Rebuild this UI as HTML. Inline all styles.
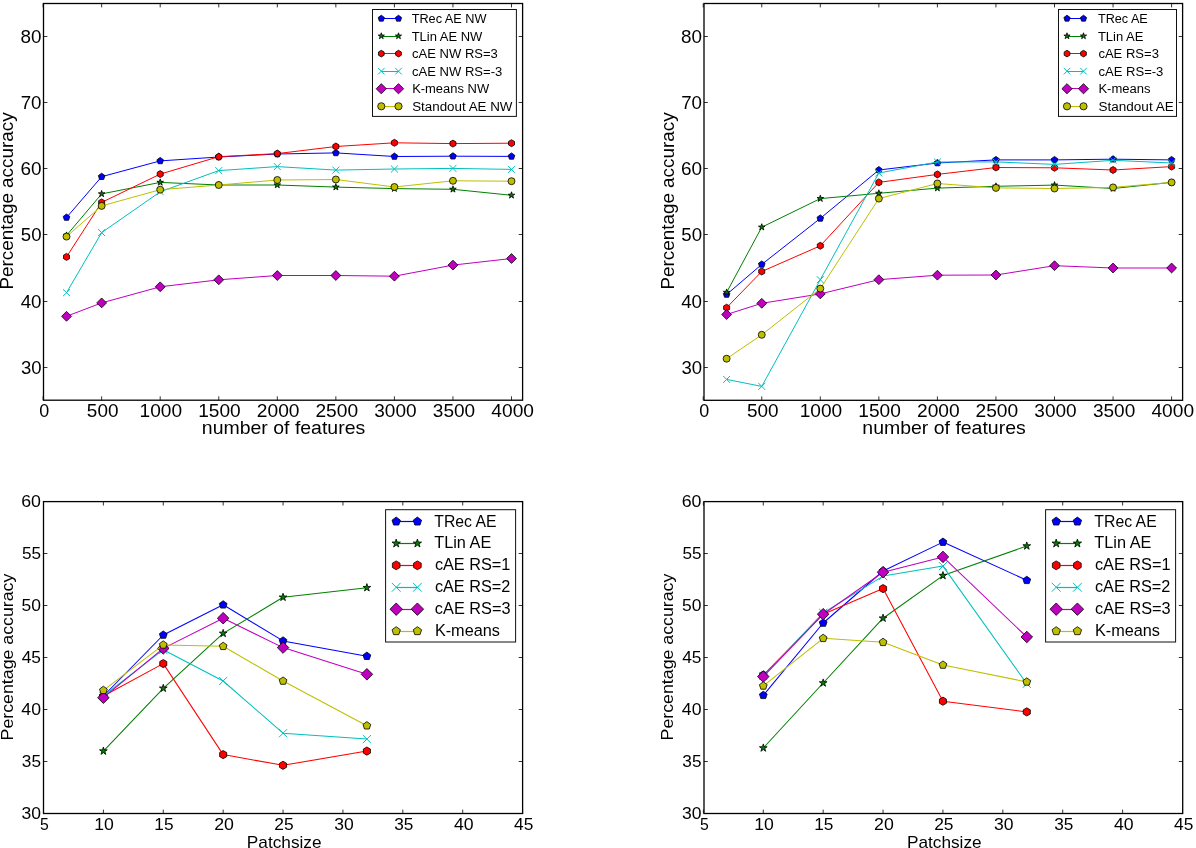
<!DOCTYPE html><html><head><meta charset="utf-8"><style>html,body{margin:0;padding:0;background:#fff;overflow:hidden;}svg{display:block;}text{font-family:"Liberation Sans",sans-serif;fill:#000;}.t{opacity:0.999}</style></head><body>
<svg width="1196" height="848" viewBox="0 0 1196 848">
<rect x="0" y="0" width="1196" height="848" fill="#fff"/>
<path d="M43.10 400.20V396.30M43.10 3.50V7.40M101.65 400.20V396.30M101.65 3.50V7.40M160.20 400.20V396.30M160.20 3.50V7.40M218.75 400.20V396.30M218.75 3.50V7.40M277.30 400.20V396.30M277.30 3.50V7.40M335.85 400.20V396.30M335.85 3.50V7.40M394.40 400.20V396.30M394.40 3.50V7.40M452.95 400.20V396.30M452.95 3.50V7.40M511.50 400.20V396.30M511.50 3.50V7.40M43.50 367.50H47.40M522.60 367.50H518.70M43.50 301.50H47.40M522.60 301.50H518.70M43.50 234.50H47.40M522.60 234.50H518.70M43.50 168.50H47.40M522.60 168.50H518.70M43.50 102.50H47.40M522.60 102.50H518.70M43.50 36.50H47.40M522.60 36.50H518.70" stroke="#000" stroke-width="0.8" fill="none"/>
<polyline points="66.52,217.50 101.65,176.70 160.20,160.90 218.75,157.00 277.30,154.00 335.85,152.90 394.40,156.50 452.95,156.20 511.50,156.40" fill="none" stroke="#0000ff" stroke-width="1.00" stroke-linejoin="round"/>
<polygon points="66.52,214.02 69.83,216.42 68.57,220.32 64.47,220.32 63.21,216.42" fill="#0000ff" stroke="#000" stroke-width="0.80"/>
<polygon points="101.65,173.22 104.96,175.62 103.70,179.52 99.60,179.52 98.34,175.62" fill="#0000ff" stroke="#000" stroke-width="0.80"/>
<polygon points="160.20,157.42 163.51,159.82 162.25,163.72 158.15,163.72 156.89,159.82" fill="#0000ff" stroke="#000" stroke-width="0.80"/>
<polygon points="218.75,153.52 222.06,155.92 220.80,159.82 216.70,159.82 215.44,155.92" fill="#0000ff" stroke="#000" stroke-width="0.80"/>
<polygon points="277.30,150.52 280.61,152.92 279.35,156.82 275.25,156.82 273.99,152.92" fill="#0000ff" stroke="#000" stroke-width="0.80"/>
<polygon points="335.85,149.42 339.16,151.82 337.90,155.72 333.80,155.72 332.54,151.82" fill="#0000ff" stroke="#000" stroke-width="0.80"/>
<polygon points="394.40,153.02 397.71,155.42 396.45,159.32 392.35,159.32 391.09,155.42" fill="#0000ff" stroke="#000" stroke-width="0.80"/>
<polygon points="452.95,152.72 456.26,155.12 455.00,159.02 450.90,159.02 449.64,155.12" fill="#0000ff" stroke="#000" stroke-width="0.80"/>
<polygon points="511.50,152.92 514.81,155.32 513.55,159.22 509.45,159.22 508.19,155.32" fill="#0000ff" stroke="#000" stroke-width="0.80"/>
<polyline points="66.52,235.40 101.65,193.90 160.20,182.40 218.75,185.00 277.30,185.00 335.85,187.10 394.40,188.60 452.95,189.30 511.50,195.30" fill="none" stroke="#008000" stroke-width="1.00" stroke-linejoin="round"/>
<polygon points="66.52,231.92 67.30,234.32 69.83,234.32 67.78,235.81 68.57,238.22 66.52,236.73 64.47,238.22 65.26,235.81 63.21,234.32 65.74,234.32" fill="#008000" stroke="#000" stroke-width="0.80"/>
<polygon points="101.65,190.42 102.43,192.82 104.96,192.82 102.91,194.31 103.70,196.72 101.65,195.23 99.60,196.72 100.39,194.31 98.34,192.82 100.87,192.82" fill="#008000" stroke="#000" stroke-width="0.80"/>
<polygon points="160.20,178.92 160.98,181.32 163.51,181.32 161.46,182.81 162.25,185.22 160.20,183.73 158.15,185.22 158.94,182.81 156.89,181.32 159.42,181.32" fill="#008000" stroke="#000" stroke-width="0.80"/>
<polygon points="218.75,181.52 219.53,183.92 222.06,183.92 220.01,185.41 220.80,187.82 218.75,186.33 216.70,187.82 217.49,185.41 215.44,183.92 217.97,183.92" fill="#008000" stroke="#000" stroke-width="0.80"/>
<polygon points="277.30,181.52 278.08,183.92 280.61,183.92 278.56,185.41 279.35,187.82 277.30,186.33 275.25,187.82 276.04,185.41 273.99,183.92 276.52,183.92" fill="#008000" stroke="#000" stroke-width="0.80"/>
<polygon points="335.85,183.62 336.63,186.02 339.16,186.02 337.11,187.51 337.90,189.92 335.85,188.43 333.80,189.92 334.59,187.51 332.54,186.02 335.07,186.02" fill="#008000" stroke="#000" stroke-width="0.80"/>
<polygon points="394.40,185.12 395.18,187.52 397.71,187.52 395.66,189.01 396.45,191.42 394.40,189.93 392.35,191.42 393.14,189.01 391.09,187.52 393.62,187.52" fill="#008000" stroke="#000" stroke-width="0.80"/>
<polygon points="452.95,185.82 453.73,188.22 456.26,188.22 454.21,189.71 455.00,192.12 452.95,190.63 450.90,192.12 451.69,189.71 449.64,188.22 452.17,188.22" fill="#008000" stroke="#000" stroke-width="0.80"/>
<polygon points="511.50,191.82 512.28,194.22 514.81,194.22 512.76,195.71 513.55,198.12 511.50,196.63 509.45,198.12 510.24,195.71 508.19,194.22 510.72,194.22" fill="#008000" stroke="#000" stroke-width="0.80"/>
<polyline points="66.52,256.90 101.65,202.40 160.20,174.10 218.75,156.70 277.30,153.60 335.85,146.50 394.40,142.80 452.95,143.60 511.50,143.20" fill="none" stroke="#ff0000" stroke-width="1.00" stroke-linejoin="round"/>
<polygon points="66.52,253.42 69.53,255.16 69.53,258.64 66.52,260.38 63.51,258.64 63.51,255.16" fill="#ff0000" stroke="#000" stroke-width="0.80"/>
<polygon points="101.65,198.92 104.66,200.66 104.66,204.14 101.65,205.88 98.64,204.14 98.64,200.66" fill="#ff0000" stroke="#000" stroke-width="0.80"/>
<polygon points="160.20,170.62 163.21,172.36 163.21,175.84 160.20,177.58 157.19,175.84 157.19,172.36" fill="#ff0000" stroke="#000" stroke-width="0.80"/>
<polygon points="218.75,153.22 221.76,154.96 221.76,158.44 218.75,160.18 215.74,158.44 215.74,154.96" fill="#ff0000" stroke="#000" stroke-width="0.80"/>
<polygon points="277.30,150.12 280.31,151.86 280.31,155.34 277.30,157.08 274.29,155.34 274.29,151.86" fill="#ff0000" stroke="#000" stroke-width="0.80"/>
<polygon points="335.85,143.02 338.86,144.76 338.86,148.24 335.85,149.98 332.84,148.24 332.84,144.76" fill="#ff0000" stroke="#000" stroke-width="0.80"/>
<polygon points="394.40,139.32 397.41,141.06 397.41,144.54 394.40,146.28 391.39,144.54 391.39,141.06" fill="#ff0000" stroke="#000" stroke-width="0.80"/>
<polygon points="452.95,140.12 455.96,141.86 455.96,145.34 452.95,147.08 449.94,145.34 449.94,141.86" fill="#ff0000" stroke="#000" stroke-width="0.80"/>
<polygon points="511.50,139.72 514.51,141.46 514.51,144.94 511.50,146.68 508.49,144.94 508.49,141.46" fill="#ff0000" stroke="#000" stroke-width="0.80"/>
<polyline points="66.52,292.70 101.65,232.60 160.20,191.80 218.75,170.60 277.30,166.60 335.85,170.10 394.40,169.00 452.95,168.40 511.50,169.40" fill="none" stroke="#00bfbf" stroke-width="1.00" stroke-linejoin="round"/>
<path d="M63.04 289.22L70.00 296.18M63.04 296.18L70.00 289.22" stroke="#00bfbf" stroke-width="1.00" fill="none"/>
<path d="M98.17 229.12L105.13 236.08M98.17 236.08L105.13 229.12" stroke="#00bfbf" stroke-width="1.00" fill="none"/>
<path d="M156.72 188.32L163.68 195.28M156.72 195.28L163.68 188.32" stroke="#00bfbf" stroke-width="1.00" fill="none"/>
<path d="M215.27 167.12L222.23 174.08M215.27 174.08L222.23 167.12" stroke="#00bfbf" stroke-width="1.00" fill="none"/>
<path d="M273.82 163.12L280.78 170.08M273.82 170.08L280.78 163.12" stroke="#00bfbf" stroke-width="1.00" fill="none"/>
<path d="M332.37 166.62L339.33 173.58M332.37 173.58L339.33 166.62" stroke="#00bfbf" stroke-width="1.00" fill="none"/>
<path d="M390.92 165.52L397.88 172.48M390.92 172.48L397.88 165.52" stroke="#00bfbf" stroke-width="1.00" fill="none"/>
<path d="M449.47 164.92L456.43 171.88M449.47 171.88L456.43 164.92" stroke="#00bfbf" stroke-width="1.00" fill="none"/>
<path d="M508.02 165.92L514.98 172.88M508.02 172.88L514.98 165.92" stroke="#00bfbf" stroke-width="1.00" fill="none"/>
<polyline points="66.52,316.30 101.65,302.90 160.20,286.80 218.75,279.80 277.30,275.50 335.85,275.50 394.40,276.20 452.95,265.10 511.50,258.50" fill="none" stroke="#bf00bf" stroke-width="1.00" stroke-linejoin="round"/>
<polygon points="66.52,311.38 71.44,316.30 66.52,321.22 61.60,316.30" fill="#bf00bf" stroke="#000" stroke-width="0.80"/>
<polygon points="101.65,297.98 106.57,302.90 101.65,307.82 96.73,302.90" fill="#bf00bf" stroke="#000" stroke-width="0.80"/>
<polygon points="160.20,281.88 165.12,286.80 160.20,291.72 155.28,286.80" fill="#bf00bf" stroke="#000" stroke-width="0.80"/>
<polygon points="218.75,274.88 223.67,279.80 218.75,284.72 213.83,279.80" fill="#bf00bf" stroke="#000" stroke-width="0.80"/>
<polygon points="277.30,270.58 282.22,275.50 277.30,280.42 272.38,275.50" fill="#bf00bf" stroke="#000" stroke-width="0.80"/>
<polygon points="335.85,270.58 340.77,275.50 335.85,280.42 330.93,275.50" fill="#bf00bf" stroke="#000" stroke-width="0.80"/>
<polygon points="394.40,271.28 399.32,276.20 394.40,281.12 389.48,276.20" fill="#bf00bf" stroke="#000" stroke-width="0.80"/>
<polygon points="452.95,260.18 457.87,265.10 452.95,270.02 448.03,265.10" fill="#bf00bf" stroke="#000" stroke-width="0.80"/>
<polygon points="511.50,253.58 516.42,258.50 511.50,263.42 506.58,258.50" fill="#bf00bf" stroke="#000" stroke-width="0.80"/>
<polyline points="66.52,236.60 101.65,205.90 160.20,189.70 218.75,185.00 277.30,180.00 335.85,179.50 394.40,187.00 452.95,180.80 511.50,181.20" fill="none" stroke="#bfbf00" stroke-width="1.00" stroke-linejoin="round"/>
<circle cx="66.52" cy="236.60" r="3.48" fill="#bfbf00" stroke="#000" stroke-width="0.80"/>
<circle cx="101.65" cy="205.90" r="3.48" fill="#bfbf00" stroke="#000" stroke-width="0.80"/>
<circle cx="160.20" cy="189.70" r="3.48" fill="#bfbf00" stroke="#000" stroke-width="0.80"/>
<circle cx="218.75" cy="185.00" r="3.48" fill="#bfbf00" stroke="#000" stroke-width="0.80"/>
<circle cx="277.30" cy="180.00" r="3.48" fill="#bfbf00" stroke="#000" stroke-width="0.80"/>
<circle cx="335.85" cy="179.50" r="3.48" fill="#bfbf00" stroke="#000" stroke-width="0.80"/>
<circle cx="394.40" cy="187.00" r="3.48" fill="#bfbf00" stroke="#000" stroke-width="0.80"/>
<circle cx="452.95" cy="180.80" r="3.48" fill="#bfbf00" stroke="#000" stroke-width="0.80"/>
<circle cx="511.50" cy="181.20" r="3.48" fill="#bfbf00" stroke="#000" stroke-width="0.80"/>
<rect x="43.50" y="3.50" width="479.10" height="396.70" fill="none" stroke="#000" stroke-width="1.3"/>
<rect x="372.50" y="9.50" width="143.90" height="106.90" fill="#fff" stroke="#111" stroke-width="1.0"/>
<line x1="381.30" y1="18.50" x2="398.50" y2="18.50" stroke="#0000ff" stroke-width="1.00"/>
<polygon points="381.30,15.22 384.42,17.49 383.23,21.15 379.37,21.15 378.18,17.49" fill="#0000ff" stroke="#000" stroke-width="0.80"/>
<polygon points="398.50,15.22 401.62,17.49 400.43,21.15 396.57,21.15 395.38,17.49" fill="#0000ff" stroke="#000" stroke-width="0.80"/>
<line x1="381.30" y1="36.50" x2="398.50" y2="36.50" stroke="#008000" stroke-width="1.00"/>
<polygon points="381.30,32.78 382.04,35.05 384.42,35.05 382.49,36.45 383.23,38.71 381.30,37.31 379.37,38.71 380.11,36.45 378.18,35.05 380.56,35.05" fill="#008000" stroke="#000" stroke-width="0.80"/>
<polygon points="398.50,32.78 399.24,35.05 401.62,35.05 399.69,36.45 400.43,38.71 398.50,37.31 396.57,38.71 397.31,36.45 395.38,35.05 397.76,35.05" fill="#008000" stroke="#000" stroke-width="0.80"/>
<line x1="381.30" y1="53.50" x2="398.50" y2="53.50" stroke="#ff0000" stroke-width="1.00"/>
<polygon points="381.30,50.34 384.14,51.98 384.14,55.26 381.30,56.90 378.46,55.26 378.46,51.98" fill="#ff0000" stroke="#000" stroke-width="0.80"/>
<polygon points="398.50,50.34 401.34,51.98 401.34,55.26 398.50,56.90 395.66,55.26 395.66,51.98" fill="#ff0000" stroke="#000" stroke-width="0.80"/>
<line x1="381.30" y1="71.50" x2="398.50" y2="71.50" stroke="#00bfbf" stroke-width="1.00"/>
<path d="M378.02 67.90L384.58 74.46M378.02 74.46L384.58 67.90" stroke="#00bfbf" stroke-width="1.00" fill="none"/>
<path d="M395.22 67.90L401.78 74.46M395.22 74.46L401.78 67.90" stroke="#00bfbf" stroke-width="1.00" fill="none"/>
<line x1="381.30" y1="88.50" x2="398.50" y2="88.50" stroke="#bf00bf" stroke-width="1.00"/>
<polygon points="381.30,83.63 386.41,88.74 381.30,93.85 376.19,88.74" fill="#bf00bf" stroke="#000" stroke-width="0.80"/>
<polygon points="398.50,83.63 403.61,88.74 398.50,93.85 393.39,88.74" fill="#bf00bf" stroke="#000" stroke-width="0.80"/>
<line x1="381.30" y1="106.50" x2="398.50" y2="106.50" stroke="#bfbf00" stroke-width="1.00"/>
<circle cx="381.30" cy="106.30" r="3.61" fill="#bfbf00" stroke="#000" stroke-width="0.80"/>
<circle cx="398.50" cy="106.30" r="3.61" fill="#bfbf00" stroke="#000" stroke-width="0.80"/>
<path d="M703.20 400.30V396.40M703.20 3.50V7.40M761.75 400.30V396.40M761.75 3.50V7.40M820.30 400.30V396.40M820.30 3.50V7.40M878.85 400.30V396.40M878.85 3.50V7.40M937.40 400.30V396.40M937.40 3.50V7.40M995.95 400.30V396.40M995.95 3.50V7.40M1054.50 400.30V396.40M1054.50 3.50V7.40M1113.05 400.30V396.40M1113.05 3.50V7.40M1171.60 400.30V396.40M1171.60 3.50V7.40M704.00 367.50H707.90M1182.60 367.50H1178.70M704.00 301.50H707.90M1182.60 301.50H1178.70M704.00 234.50H707.90M1182.60 234.50H1178.70M704.00 168.50H707.90M1182.60 168.50H1178.70M704.00 102.50H707.90M1182.60 102.50H1178.70M704.00 36.50H707.90M1182.60 36.50H1178.70" stroke="#000" stroke-width="0.8" fill="none"/>
<polyline points="726.62,294.50 761.75,264.40 820.30,218.40 878.85,170.00 937.40,163.00 995.95,159.90 1054.50,159.90 1113.05,159.20 1171.60,159.90" fill="none" stroke="#0000ff" stroke-width="1.00" stroke-linejoin="round"/>
<polygon points="726.62,291.02 729.93,293.42 728.67,297.32 724.57,297.32 723.31,293.42" fill="#0000ff" stroke="#000" stroke-width="0.80"/>
<polygon points="761.75,260.92 765.06,263.32 763.80,267.22 759.70,267.22 758.44,263.32" fill="#0000ff" stroke="#000" stroke-width="0.80"/>
<polygon points="820.30,214.92 823.61,217.32 822.35,221.22 818.25,221.22 816.99,217.32" fill="#0000ff" stroke="#000" stroke-width="0.80"/>
<polygon points="878.85,166.52 882.16,168.92 880.90,172.82 876.80,172.82 875.54,168.92" fill="#0000ff" stroke="#000" stroke-width="0.80"/>
<polygon points="937.40,159.52 940.71,161.92 939.45,165.82 935.35,165.82 934.09,161.92" fill="#0000ff" stroke="#000" stroke-width="0.80"/>
<polygon points="995.95,156.42 999.26,158.82 998.00,162.72 993.90,162.72 992.64,158.82" fill="#0000ff" stroke="#000" stroke-width="0.80"/>
<polygon points="1054.50,156.42 1057.81,158.82 1056.55,162.72 1052.45,162.72 1051.19,158.82" fill="#0000ff" stroke="#000" stroke-width="0.80"/>
<polygon points="1113.05,155.72 1116.36,158.12 1115.10,162.02 1111.00,162.02 1109.74,158.12" fill="#0000ff" stroke="#000" stroke-width="0.80"/>
<polygon points="1171.60,156.42 1174.91,158.82 1173.65,162.72 1169.55,162.72 1168.29,158.82" fill="#0000ff" stroke="#000" stroke-width="0.80"/>
<polyline points="726.62,292.40 761.75,227.20 820.30,198.60 878.85,193.30 937.40,188.10 995.95,186.30 1054.50,185.10 1113.05,188.50 1171.60,182.40" fill="none" stroke="#008000" stroke-width="1.00" stroke-linejoin="round"/>
<polygon points="726.62,288.92 727.40,291.32 729.93,291.32 727.88,292.81 728.67,295.22 726.62,293.73 724.57,295.22 725.36,292.81 723.31,291.32 725.84,291.32" fill="#008000" stroke="#000" stroke-width="0.80"/>
<polygon points="761.75,223.72 762.53,226.12 765.06,226.12 763.01,227.61 763.80,230.02 761.75,228.53 759.70,230.02 760.49,227.61 758.44,226.12 760.97,226.12" fill="#008000" stroke="#000" stroke-width="0.80"/>
<polygon points="820.30,195.12 821.08,197.52 823.61,197.52 821.56,199.01 822.35,201.42 820.30,199.93 818.25,201.42 819.04,199.01 816.99,197.52 819.52,197.52" fill="#008000" stroke="#000" stroke-width="0.80"/>
<polygon points="878.85,189.82 879.63,192.22 882.16,192.22 880.11,193.71 880.90,196.12 878.85,194.63 876.80,196.12 877.59,193.71 875.54,192.22 878.07,192.22" fill="#008000" stroke="#000" stroke-width="0.80"/>
<polygon points="937.40,184.62 938.18,187.02 940.71,187.02 938.66,188.51 939.45,190.92 937.40,189.43 935.35,190.92 936.14,188.51 934.09,187.02 936.62,187.02" fill="#008000" stroke="#000" stroke-width="0.80"/>
<polygon points="995.95,182.82 996.73,185.22 999.26,185.22 997.21,186.71 998.00,189.12 995.95,187.63 993.90,189.12 994.69,186.71 992.64,185.22 995.17,185.22" fill="#008000" stroke="#000" stroke-width="0.80"/>
<polygon points="1054.50,181.62 1055.28,184.02 1057.81,184.02 1055.76,185.51 1056.55,187.92 1054.50,186.43 1052.45,187.92 1053.24,185.51 1051.19,184.02 1053.72,184.02" fill="#008000" stroke="#000" stroke-width="0.80"/>
<polygon points="1113.05,185.02 1113.83,187.42 1116.36,187.42 1114.31,188.91 1115.10,191.32 1113.05,189.83 1111.00,191.32 1111.79,188.91 1109.74,187.42 1112.27,187.42" fill="#008000" stroke="#000" stroke-width="0.80"/>
<polygon points="1171.60,178.92 1172.38,181.32 1174.91,181.32 1172.86,182.81 1173.65,185.22 1171.60,183.73 1169.55,185.22 1170.34,182.81 1168.29,181.32 1170.82,181.32" fill="#008000" stroke="#000" stroke-width="0.80"/>
<polyline points="726.62,307.70 761.75,271.50 820.30,245.80 878.85,182.40 937.40,174.40 995.95,167.50 1054.50,167.80 1113.05,170.00 1171.60,166.60" fill="none" stroke="#ff0000" stroke-width="1.00" stroke-linejoin="round"/>
<polygon points="726.62,304.22 729.63,305.96 729.63,309.44 726.62,311.18 723.61,309.44 723.61,305.96" fill="#ff0000" stroke="#000" stroke-width="0.80"/>
<polygon points="761.75,268.02 764.76,269.76 764.76,273.24 761.75,274.98 758.74,273.24 758.74,269.76" fill="#ff0000" stroke="#000" stroke-width="0.80"/>
<polygon points="820.30,242.32 823.31,244.06 823.31,247.54 820.30,249.28 817.29,247.54 817.29,244.06" fill="#ff0000" stroke="#000" stroke-width="0.80"/>
<polygon points="878.85,178.92 881.86,180.66 881.86,184.14 878.85,185.88 875.84,184.14 875.84,180.66" fill="#ff0000" stroke="#000" stroke-width="0.80"/>
<polygon points="937.40,170.92 940.41,172.66 940.41,176.14 937.40,177.88 934.39,176.14 934.39,172.66" fill="#ff0000" stroke="#000" stroke-width="0.80"/>
<polygon points="995.95,164.02 998.96,165.76 998.96,169.24 995.95,170.98 992.94,169.24 992.94,165.76" fill="#ff0000" stroke="#000" stroke-width="0.80"/>
<polygon points="1054.50,164.32 1057.51,166.06 1057.51,169.54 1054.50,171.28 1051.49,169.54 1051.49,166.06" fill="#ff0000" stroke="#000" stroke-width="0.80"/>
<polygon points="1113.05,166.52 1116.06,168.26 1116.06,171.74 1113.05,173.48 1110.04,171.74 1110.04,168.26" fill="#ff0000" stroke="#000" stroke-width="0.80"/>
<polygon points="1171.60,163.12 1174.61,164.86 1174.61,168.34 1171.60,170.08 1168.59,168.34 1168.59,164.86" fill="#ff0000" stroke="#000" stroke-width="0.80"/>
<polyline points="726.62,379.40 761.75,386.40 820.30,279.70 878.85,173.00 937.40,162.00 995.95,161.90 1054.50,164.40 1113.05,160.30 1171.60,163.00" fill="none" stroke="#00bfbf" stroke-width="1.00" stroke-linejoin="round"/>
<path d="M723.14 375.92L730.10 382.88M723.14 382.88L730.10 375.92" stroke="#00bfbf" stroke-width="1.00" fill="none"/>
<path d="M758.27 382.92L765.23 389.88M758.27 389.88L765.23 382.92" stroke="#00bfbf" stroke-width="1.00" fill="none"/>
<path d="M816.82 276.22L823.78 283.18M816.82 283.18L823.78 276.22" stroke="#00bfbf" stroke-width="1.00" fill="none"/>
<path d="M875.37 169.52L882.33 176.48M875.37 176.48L882.33 169.52" stroke="#00bfbf" stroke-width="1.00" fill="none"/>
<path d="M933.92 158.52L940.88 165.48M933.92 165.48L940.88 158.52" stroke="#00bfbf" stroke-width="1.00" fill="none"/>
<path d="M992.47 158.42L999.43 165.38M992.47 165.38L999.43 158.42" stroke="#00bfbf" stroke-width="1.00" fill="none"/>
<path d="M1051.02 160.92L1057.98 167.88M1051.02 167.88L1057.98 160.92" stroke="#00bfbf" stroke-width="1.00" fill="none"/>
<path d="M1109.57 156.82L1116.53 163.78M1109.57 163.78L1116.53 156.82" stroke="#00bfbf" stroke-width="1.00" fill="none"/>
<path d="M1168.12 159.52L1175.08 166.48M1168.12 166.48L1175.08 159.52" stroke="#00bfbf" stroke-width="1.00" fill="none"/>
<polyline points="726.62,314.50 761.75,303.30 820.30,293.90 878.85,279.70 937.40,275.20 995.95,275.00 1054.50,265.70 1113.05,268.00 1171.60,268.00" fill="none" stroke="#bf00bf" stroke-width="1.00" stroke-linejoin="round"/>
<polygon points="726.62,309.58 731.54,314.50 726.62,319.42 721.70,314.50" fill="#bf00bf" stroke="#000" stroke-width="0.80"/>
<polygon points="761.75,298.38 766.67,303.30 761.75,308.22 756.83,303.30" fill="#bf00bf" stroke="#000" stroke-width="0.80"/>
<polygon points="820.30,288.98 825.22,293.90 820.30,298.82 815.38,293.90" fill="#bf00bf" stroke="#000" stroke-width="0.80"/>
<polygon points="878.85,274.78 883.77,279.70 878.85,284.62 873.93,279.70" fill="#bf00bf" stroke="#000" stroke-width="0.80"/>
<polygon points="937.40,270.28 942.32,275.20 937.40,280.12 932.48,275.20" fill="#bf00bf" stroke="#000" stroke-width="0.80"/>
<polygon points="995.95,270.08 1000.87,275.00 995.95,279.92 991.03,275.00" fill="#bf00bf" stroke="#000" stroke-width="0.80"/>
<polygon points="1054.50,260.78 1059.42,265.70 1054.50,270.62 1049.58,265.70" fill="#bf00bf" stroke="#000" stroke-width="0.80"/>
<polygon points="1113.05,263.08 1117.97,268.00 1113.05,272.92 1108.13,268.00" fill="#bf00bf" stroke="#000" stroke-width="0.80"/>
<polygon points="1171.60,263.08 1176.52,268.00 1171.60,272.92 1166.68,268.00" fill="#bf00bf" stroke="#000" stroke-width="0.80"/>
<polyline points="726.62,358.70 761.75,334.80 820.30,288.60 878.85,198.60 937.40,183.50 995.95,187.90 1054.50,188.50 1113.05,187.40 1171.60,182.40" fill="none" stroke="#bfbf00" stroke-width="1.00" stroke-linejoin="round"/>
<circle cx="726.62" cy="358.70" r="3.48" fill="#bfbf00" stroke="#000" stroke-width="0.80"/>
<circle cx="761.75" cy="334.80" r="3.48" fill="#bfbf00" stroke="#000" stroke-width="0.80"/>
<circle cx="820.30" cy="288.60" r="3.48" fill="#bfbf00" stroke="#000" stroke-width="0.80"/>
<circle cx="878.85" cy="198.60" r="3.48" fill="#bfbf00" stroke="#000" stroke-width="0.80"/>
<circle cx="937.40" cy="183.50" r="3.48" fill="#bfbf00" stroke="#000" stroke-width="0.80"/>
<circle cx="995.95" cy="187.90" r="3.48" fill="#bfbf00" stroke="#000" stroke-width="0.80"/>
<circle cx="1054.50" cy="188.50" r="3.48" fill="#bfbf00" stroke="#000" stroke-width="0.80"/>
<circle cx="1113.05" cy="187.40" r="3.48" fill="#bfbf00" stroke="#000" stroke-width="0.80"/>
<circle cx="1171.60" cy="182.40" r="3.48" fill="#bfbf00" stroke="#000" stroke-width="0.80"/>
<rect x="704.00" y="3.50" width="478.60" height="396.80" fill="none" stroke="#000" stroke-width="1.3"/>
<rect x="1058.50" y="9.50" width="118.00" height="106.90" fill="#fff" stroke="#111" stroke-width="1.0"/>
<line x1="1067.00" y1="18.50" x2="1083.50" y2="18.50" stroke="#0000ff" stroke-width="1.00"/>
<polygon points="1067.00,15.22 1070.12,17.49 1068.93,21.15 1065.07,21.15 1063.88,17.49" fill="#0000ff" stroke="#000" stroke-width="0.80"/>
<polygon points="1083.50,15.22 1086.62,17.49 1085.43,21.15 1081.57,21.15 1080.38,17.49" fill="#0000ff" stroke="#000" stroke-width="0.80"/>
<line x1="1067.00" y1="36.50" x2="1083.50" y2="36.50" stroke="#008000" stroke-width="1.00"/>
<polygon points="1067.00,32.78 1067.74,35.05 1070.12,35.05 1068.19,36.45 1068.93,38.71 1067.00,37.31 1065.07,38.71 1065.81,36.45 1063.88,35.05 1066.26,35.05" fill="#008000" stroke="#000" stroke-width="0.80"/>
<polygon points="1083.50,32.78 1084.24,35.05 1086.62,35.05 1084.69,36.45 1085.43,38.71 1083.50,37.31 1081.57,38.71 1082.31,36.45 1080.38,35.05 1082.76,35.05" fill="#008000" stroke="#000" stroke-width="0.80"/>
<line x1="1067.00" y1="53.50" x2="1083.50" y2="53.50" stroke="#ff0000" stroke-width="1.00"/>
<polygon points="1067.00,50.34 1069.84,51.98 1069.84,55.26 1067.00,56.90 1064.16,55.26 1064.16,51.98" fill="#ff0000" stroke="#000" stroke-width="0.80"/>
<polygon points="1083.50,50.34 1086.34,51.98 1086.34,55.26 1083.50,56.90 1080.66,55.26 1080.66,51.98" fill="#ff0000" stroke="#000" stroke-width="0.80"/>
<line x1="1067.00" y1="71.50" x2="1083.50" y2="71.50" stroke="#00bfbf" stroke-width="1.00"/>
<path d="M1063.72 67.90L1070.28 74.46M1063.72 74.46L1070.28 67.90" stroke="#00bfbf" stroke-width="1.00" fill="none"/>
<path d="M1080.22 67.90L1086.78 74.46M1080.22 74.46L1086.78 67.90" stroke="#00bfbf" stroke-width="1.00" fill="none"/>
<line x1="1067.00" y1="88.50" x2="1083.50" y2="88.50" stroke="#bf00bf" stroke-width="1.00"/>
<polygon points="1067.00,83.63 1072.11,88.74 1067.00,93.85 1061.89,88.74" fill="#bf00bf" stroke="#000" stroke-width="0.80"/>
<polygon points="1083.50,83.63 1088.61,88.74 1083.50,93.85 1078.39,88.74" fill="#bf00bf" stroke="#000" stroke-width="0.80"/>
<line x1="1067.00" y1="106.50" x2="1083.50" y2="106.50" stroke="#bfbf00" stroke-width="1.00"/>
<circle cx="1067.00" cy="106.30" r="3.61" fill="#bfbf00" stroke="#000" stroke-width="0.80"/>
<circle cx="1083.50" cy="106.30" r="3.61" fill="#bfbf00" stroke="#000" stroke-width="0.80"/>
<path d="M43.50 813.50V809.60M43.50 501.60V505.50M103.39 813.50V809.60M103.39 501.60V505.50M163.28 813.50V809.60M163.28 501.60V505.50M223.16 813.50V809.60M223.16 501.60V505.50M283.05 813.50V809.60M283.05 501.60V505.50M342.94 813.50V809.60M342.94 501.60V505.50M402.82 813.50V809.60M402.82 501.60V505.50M462.71 813.50V809.60M462.71 501.60V505.50M522.60 813.50V809.60M522.60 501.60V505.50M43.50 813.50H47.40M522.60 813.50H518.70M43.50 761.50H47.40M522.60 761.50H518.70M43.50 709.50H47.40M522.60 709.50H518.70M43.50 657.50H47.40M522.60 657.50H518.70M43.50 605.50H47.40M522.60 605.50H518.70M43.50 553.50H47.40M522.60 553.50H518.70M43.50 501.50H47.40M522.60 501.50H518.70" stroke="#000" stroke-width="0.8" fill="none"/>
<polyline points="103.39,696.00 163.28,635.00 223.16,604.80 283.05,640.90 366.89,656.20" fill="none" stroke="#0000ff" stroke-width="1.05" stroke-linejoin="round"/>
<polygon points="103.39,691.92 107.27,694.74 105.79,699.30 100.99,699.30 99.51,694.74" fill="#0000ff" stroke="#000" stroke-width="0.80"/>
<polygon points="163.28,630.92 167.16,633.74 165.67,638.30 160.88,638.30 159.39,633.74" fill="#0000ff" stroke="#000" stroke-width="0.80"/>
<polygon points="223.16,600.72 227.04,603.54 225.56,608.10 220.76,608.10 219.28,603.54" fill="#0000ff" stroke="#000" stroke-width="0.80"/>
<polygon points="283.05,636.82 286.93,639.64 285.45,644.20 280.65,644.20 279.17,639.64" fill="#0000ff" stroke="#000" stroke-width="0.80"/>
<polygon points="366.89,652.12 370.77,654.94 369.29,659.50 364.49,659.50 363.01,654.94" fill="#0000ff" stroke="#000" stroke-width="0.80"/>
<polyline points="103.39,751.10 163.28,688.30 223.16,633.40 283.05,597.30 366.89,587.70" fill="none" stroke="#008000" stroke-width="1.05" stroke-linejoin="round"/>
<polygon points="103.39,747.02 104.30,749.84 107.27,749.84 104.87,751.58 105.79,754.40 103.39,752.66 100.99,754.40 101.91,751.58 99.51,749.84 102.47,749.84" fill="#008000" stroke="#000" stroke-width="0.80"/>
<polygon points="163.28,684.22 164.19,687.04 167.16,687.04 164.76,688.78 165.67,691.60 163.28,689.86 160.88,691.60 161.79,688.78 159.39,687.04 162.36,687.04" fill="#008000" stroke="#000" stroke-width="0.80"/>
<polygon points="223.16,629.32 224.08,632.14 227.04,632.14 224.64,633.88 225.56,636.70 223.16,634.96 220.76,636.70 221.68,633.88 219.28,632.14 222.25,632.14" fill="#008000" stroke="#000" stroke-width="0.80"/>
<polygon points="283.05,593.22 283.97,596.04 286.93,596.04 284.53,597.78 285.45,600.60 283.05,598.86 280.65,600.60 281.57,597.78 279.17,596.04 282.13,596.04" fill="#008000" stroke="#000" stroke-width="0.80"/>
<polygon points="366.89,583.62 367.81,586.44 370.77,586.44 368.37,588.18 369.29,591.00 366.89,589.26 364.49,591.00 365.41,588.18 363.01,586.44 365.98,586.44" fill="#008000" stroke="#000" stroke-width="0.80"/>
<polyline points="103.39,696.00 163.28,663.60 223.16,754.60 283.05,765.30 366.89,751.10" fill="none" stroke="#ff0000" stroke-width="1.05" stroke-linejoin="round"/>
<polygon points="103.39,691.92 106.92,693.96 106.92,698.04 103.39,700.08 99.85,698.04 99.85,693.96" fill="#ff0000" stroke="#000" stroke-width="0.80"/>
<polygon points="163.28,659.52 166.81,661.56 166.81,665.64 163.28,667.68 159.74,665.64 159.74,661.56" fill="#ff0000" stroke="#000" stroke-width="0.80"/>
<polygon points="223.16,750.52 226.70,752.56 226.70,756.64 223.16,758.68 219.63,756.64 219.63,752.56" fill="#ff0000" stroke="#000" stroke-width="0.80"/>
<polygon points="283.05,761.22 286.58,763.26 286.58,767.34 283.05,769.38 279.52,767.34 279.52,763.26" fill="#ff0000" stroke="#000" stroke-width="0.80"/>
<polygon points="366.89,747.02 370.43,749.06 370.43,753.14 366.89,755.18 363.36,753.14 363.36,749.06" fill="#ff0000" stroke="#000" stroke-width="0.80"/>
<polyline points="103.39,696.00 163.28,649.70 223.16,681.00 283.05,733.20 366.89,739.10" fill="none" stroke="#00bfbf" stroke-width="1.05" stroke-linejoin="round"/>
<path d="M99.31 691.92L107.47 700.08M99.31 700.08L107.47 691.92" stroke="#00bfbf" stroke-width="1.00" fill="none"/>
<path d="M159.19 645.62L167.36 653.78M159.19 653.78L167.36 645.62" stroke="#00bfbf" stroke-width="1.00" fill="none"/>
<path d="M219.08 676.92L227.24 685.08M219.08 685.08L227.24 676.92" stroke="#00bfbf" stroke-width="1.00" fill="none"/>
<path d="M278.97 729.12L287.13 737.28M278.97 737.28L287.13 729.12" stroke="#00bfbf" stroke-width="1.00" fill="none"/>
<path d="M362.81 735.02L370.97 743.18M362.81 743.18L370.97 735.02" stroke="#00bfbf" stroke-width="1.00" fill="none"/>
<polyline points="103.39,697.70 163.28,648.40 223.16,618.20 283.05,647.60 366.89,674.30" fill="none" stroke="#bf00bf" stroke-width="1.05" stroke-linejoin="round"/>
<polygon points="103.39,691.93 109.16,697.70 103.39,703.47 97.61,697.70" fill="#bf00bf" stroke="#000" stroke-width="0.80"/>
<polygon points="163.28,642.63 169.05,648.40 163.28,654.17 157.50,648.40" fill="#bf00bf" stroke="#000" stroke-width="0.80"/>
<polygon points="223.16,612.43 228.94,618.20 223.16,623.97 217.39,618.20" fill="#bf00bf" stroke="#000" stroke-width="0.80"/>
<polygon points="283.05,641.83 288.82,647.60 283.05,653.37 277.28,647.60" fill="#bf00bf" stroke="#000" stroke-width="0.80"/>
<polygon points="366.89,668.53 372.67,674.30 366.89,680.07 361.12,674.30" fill="#bf00bf" stroke="#000" stroke-width="0.80"/>
<polyline points="103.39,690.30 163.28,644.90 223.16,646.30 283.05,681.00 366.89,725.70" fill="none" stroke="#bfbf00" stroke-width="1.05" stroke-linejoin="round"/>
<polygon points="103.39,686.22 107.27,689.04 105.79,693.60 100.99,693.60 99.51,689.04" fill="#bfbf00" stroke="#000" stroke-width="0.80"/>
<polygon points="163.28,640.82 167.16,643.64 165.67,648.20 160.88,648.20 159.39,643.64" fill="#bfbf00" stroke="#000" stroke-width="0.80"/>
<polygon points="223.16,642.22 227.04,645.04 225.56,649.60 220.76,649.60 219.28,645.04" fill="#bfbf00" stroke="#000" stroke-width="0.80"/>
<polygon points="283.05,676.92 286.93,679.74 285.45,684.30 280.65,684.30 279.17,679.74" fill="#bfbf00" stroke="#000" stroke-width="0.80"/>
<polygon points="366.89,721.62 370.77,724.44 369.29,729.00 364.49,729.00 363.01,724.44" fill="#bfbf00" stroke="#000" stroke-width="0.80"/>
<rect x="43.50" y="501.60" width="479.10" height="311.90" fill="none" stroke="#000" stroke-width="1.3"/>
<rect x="385.60" y="509.70" width="130.00" height="132.30" fill="#fff" stroke="#111" stroke-width="1.0"/>
<line x1="396.20" y1="521.50" x2="417.40" y2="521.50" stroke="#0000ff" stroke-width="1.20"/>
<polygon points="396.20,517.10 400.38,520.14 398.79,525.06 393.61,525.06 392.02,520.14" fill="#0000ff" stroke="#000" stroke-width="0.80"/>
<polygon points="417.40,517.10 421.58,520.14 419.99,525.06 414.81,525.06 413.22,520.14" fill="#0000ff" stroke="#000" stroke-width="0.80"/>
<line x1="396.20" y1="543.50" x2="417.40" y2="543.50" stroke="#008000" stroke-width="1.20"/>
<polygon points="396.20,539.02 397.19,542.06 400.38,542.06 397.80,543.94 398.79,546.98 396.20,545.10 393.61,546.98 394.60,543.94 392.02,542.06 395.21,542.06" fill="#008000" stroke="#000" stroke-width="0.80"/>
<polygon points="417.40,539.02 418.39,542.06 421.58,542.06 419.00,543.94 419.99,546.98 417.40,545.10 414.81,546.98 415.80,543.94 413.22,542.06 416.41,542.06" fill="#008000" stroke="#000" stroke-width="0.80"/>
<line x1="396.20" y1="565.50" x2="417.40" y2="565.50" stroke="#ff0000" stroke-width="1.20"/>
<polygon points="396.20,560.94 400.01,563.14 400.01,567.54 396.20,569.74 392.39,567.54 392.39,563.14" fill="#ff0000" stroke="#000" stroke-width="0.80"/>
<polygon points="417.40,560.94 421.21,563.14 421.21,567.54 417.40,569.74 413.59,567.54 413.59,563.14" fill="#ff0000" stroke="#000" stroke-width="0.80"/>
<line x1="396.20" y1="587.50" x2="417.40" y2="587.50" stroke="#00bfbf" stroke-width="1.20"/>
<path d="M391.80 582.86L400.60 591.66M391.80 591.66L400.60 582.86" stroke="#00bfbf" stroke-width="1.00" fill="none"/>
<path d="M413.00 582.86L421.80 591.66M413.00 591.66L421.80 582.86" stroke="#00bfbf" stroke-width="1.00" fill="none"/>
<line x1="396.20" y1="609.50" x2="417.40" y2="609.50" stroke="#bf00bf" stroke-width="1.20"/>
<polygon points="396.20,602.95 402.43,609.18 396.20,615.41 389.97,609.18" fill="#bf00bf" stroke="#000" stroke-width="0.80"/>
<polygon points="417.40,602.95 423.63,609.18 417.40,615.41 411.17,609.18" fill="#bf00bf" stroke="#000" stroke-width="0.80"/>
<line x1="396.20" y1="631.50" x2="417.40" y2="631.50" stroke="#bfbf00" stroke-width="1.20"/>
<polygon points="396.20,626.70 400.38,629.74 398.79,634.66 393.61,634.66 392.02,629.74" fill="#bfbf00" stroke="#000" stroke-width="0.80"/>
<polygon points="417.40,626.70 421.58,629.74 419.99,634.66 414.81,634.66 413.22,629.74" fill="#bfbf00" stroke="#000" stroke-width="0.80"/>
<path d="M703.40 813.50V809.60M703.40 501.60V505.50M763.29 813.50V809.60M763.29 501.60V505.50M823.17 813.50V809.60M823.17 501.60V505.50M883.06 813.50V809.60M883.06 501.60V505.50M942.95 813.50V809.60M942.95 501.60V505.50M1002.84 813.50V809.60M1002.84 501.60V505.50M1062.72 813.50V809.60M1062.72 501.60V505.50M1122.61 813.50V809.60M1122.61 501.60V505.50M1182.50 813.50V809.60M1182.50 501.60V505.50M704.00 813.50H707.90M1182.70 813.50H1178.80M704.00 761.50H707.90M1182.70 761.50H1178.80M704.00 709.50H707.90M1182.70 709.50H1178.80M704.00 657.50H707.90M1182.70 657.50H1178.80M704.00 605.50H707.90M1182.70 605.50H1178.80M704.00 553.50H707.90M1182.70 553.50H1178.80M704.00 501.50H707.90M1182.70 501.50H1178.80" stroke="#000" stroke-width="0.8" fill="none"/>
<polyline points="763.29,695.30 823.17,623.00 883.06,571.00 942.95,542.10 1026.79,580.30" fill="none" stroke="#0000ff" stroke-width="1.05" stroke-linejoin="round"/>
<polygon points="763.29,691.22 767.17,694.04 765.69,698.60 760.89,698.60 759.41,694.04" fill="#0000ff" stroke="#000" stroke-width="0.80"/>
<polygon points="823.17,618.92 827.06,621.74 825.57,626.30 820.78,626.30 819.29,621.74" fill="#0000ff" stroke="#000" stroke-width="0.80"/>
<polygon points="883.06,566.92 886.94,569.74 885.46,574.30 880.66,574.30 879.18,569.74" fill="#0000ff" stroke="#000" stroke-width="0.80"/>
<polygon points="942.95,538.02 946.83,540.84 945.35,545.40 940.55,545.40 939.07,540.84" fill="#0000ff" stroke="#000" stroke-width="0.80"/>
<polygon points="1026.79,576.22 1030.67,579.04 1029.19,583.60 1024.39,583.60 1022.91,579.04" fill="#0000ff" stroke="#000" stroke-width="0.80"/>
<polyline points="763.29,748.00 823.17,683.00 883.06,618.20 942.95,575.60 1026.79,546.00" fill="none" stroke="#008000" stroke-width="1.05" stroke-linejoin="round"/>
<polygon points="763.29,743.92 764.20,746.74 767.17,746.74 764.77,748.48 765.69,751.30 763.29,749.56 760.89,751.30 761.81,748.48 759.41,746.74 762.37,746.74" fill="#008000" stroke="#000" stroke-width="0.80"/>
<polygon points="823.17,678.92 824.09,681.74 827.06,681.74 824.66,683.48 825.57,686.30 823.17,684.56 820.78,686.30 821.69,683.48 819.29,681.74 822.26,681.74" fill="#008000" stroke="#000" stroke-width="0.80"/>
<polygon points="883.06,614.12 883.98,616.94 886.94,616.94 884.54,618.68 885.46,621.50 883.06,619.76 880.66,621.50 881.58,618.68 879.18,616.94 882.15,616.94" fill="#008000" stroke="#000" stroke-width="0.80"/>
<polygon points="942.95,571.52 943.87,574.34 946.83,574.34 944.43,576.08 945.35,578.90 942.95,577.16 940.55,578.90 941.47,576.08 939.07,574.34 942.03,574.34" fill="#008000" stroke="#000" stroke-width="0.80"/>
<polygon points="1026.79,541.92 1027.71,544.74 1030.67,544.74 1028.27,546.48 1029.19,549.30 1026.79,547.56 1024.39,549.30 1025.31,546.48 1022.91,544.74 1025.88,544.74" fill="#008000" stroke="#000" stroke-width="0.80"/>
<polyline points="763.29,675.00 823.17,614.20 883.06,588.60 942.95,701.20 1026.79,711.90" fill="none" stroke="#ff0000" stroke-width="1.05" stroke-linejoin="round"/>
<polygon points="763.29,670.92 766.82,672.96 766.82,677.04 763.29,679.08 759.75,677.04 759.75,672.96" fill="#ff0000" stroke="#000" stroke-width="0.80"/>
<polygon points="823.17,610.12 826.71,612.16 826.71,616.24 823.17,618.28 819.64,616.24 819.64,612.16" fill="#ff0000" stroke="#000" stroke-width="0.80"/>
<polygon points="883.06,584.52 886.60,586.56 886.60,590.64 883.06,592.68 879.53,590.64 879.53,586.56" fill="#ff0000" stroke="#000" stroke-width="0.80"/>
<polygon points="942.95,697.12 946.48,699.16 946.48,703.24 942.95,705.28 939.42,703.24 939.42,699.16" fill="#ff0000" stroke="#000" stroke-width="0.80"/>
<polygon points="1026.79,707.82 1030.33,709.86 1030.33,713.94 1026.79,715.98 1023.26,713.94 1023.26,709.86" fill="#ff0000" stroke="#000" stroke-width="0.80"/>
<polyline points="763.29,676.00 823.17,612.90 883.06,576.10 942.95,566.10 1026.79,683.80" fill="none" stroke="#00bfbf" stroke-width="1.05" stroke-linejoin="round"/>
<path d="M759.21 671.92L767.37 680.08M759.21 680.08L767.37 671.92" stroke="#00bfbf" stroke-width="1.00" fill="none"/>
<path d="M819.09 608.82L827.25 616.98M819.09 616.98L827.25 608.82" stroke="#00bfbf" stroke-width="1.00" fill="none"/>
<path d="M878.98 572.02L887.14 580.18M878.98 580.18L887.14 572.02" stroke="#00bfbf" stroke-width="1.00" fill="none"/>
<path d="M938.87 562.02L947.03 570.18M938.87 570.18L947.03 562.02" stroke="#00bfbf" stroke-width="1.00" fill="none"/>
<path d="M1022.71 679.72L1030.87 687.88M1022.71 687.88L1030.87 679.72" stroke="#00bfbf" stroke-width="1.00" fill="none"/>
<polyline points="763.29,676.60 823.17,614.20 883.06,572.20 942.95,556.90 1026.79,637.00" fill="none" stroke="#bf00bf" stroke-width="1.05" stroke-linejoin="round"/>
<polygon points="763.29,670.83 769.06,676.60 763.29,682.37 757.51,676.60" fill="#bf00bf" stroke="#000" stroke-width="0.80"/>
<polygon points="823.17,608.43 828.95,614.20 823.17,619.97 817.40,614.20" fill="#bf00bf" stroke="#000" stroke-width="0.80"/>
<polygon points="883.06,566.43 888.84,572.20 883.06,577.97 877.29,572.20" fill="#bf00bf" stroke="#000" stroke-width="0.80"/>
<polygon points="942.95,551.13 948.72,556.90 942.95,562.67 937.18,556.90" fill="#bf00bf" stroke="#000" stroke-width="0.80"/>
<polygon points="1026.79,631.23 1032.57,637.00 1026.79,642.77 1021.02,637.00" fill="#bf00bf" stroke="#000" stroke-width="0.80"/>
<polyline points="763.29,685.90 823.17,638.30 883.06,642.30 942.95,665.00 1026.79,681.90" fill="none" stroke="#bfbf00" stroke-width="1.05" stroke-linejoin="round"/>
<polygon points="763.29,681.82 767.17,684.64 765.69,689.20 760.89,689.20 759.41,684.64" fill="#bfbf00" stroke="#000" stroke-width="0.80"/>
<polygon points="823.17,634.22 827.06,637.04 825.57,641.60 820.78,641.60 819.29,637.04" fill="#bfbf00" stroke="#000" stroke-width="0.80"/>
<polygon points="883.06,638.22 886.94,641.04 885.46,645.60 880.66,645.60 879.18,641.04" fill="#bfbf00" stroke="#000" stroke-width="0.80"/>
<polygon points="942.95,660.92 946.83,663.74 945.35,668.30 940.55,668.30 939.07,663.74" fill="#bfbf00" stroke="#000" stroke-width="0.80"/>
<polygon points="1026.79,677.82 1030.67,680.64 1029.19,685.20 1024.39,685.20 1022.91,680.64" fill="#bfbf00" stroke="#000" stroke-width="0.80"/>
<rect x="704.00" y="501.60" width="478.70" height="311.90" fill="none" stroke="#000" stroke-width="1.3"/>
<rect x="1045.60" y="509.70" width="130.00" height="132.30" fill="#fff" stroke="#111" stroke-width="1.0"/>
<line x1="1056.20" y1="521.50" x2="1077.40" y2="521.50" stroke="#0000ff" stroke-width="1.20"/>
<polygon points="1056.20,517.10 1060.38,520.14 1058.79,525.06 1053.61,525.06 1052.02,520.14" fill="#0000ff" stroke="#000" stroke-width="0.80"/>
<polygon points="1077.40,517.10 1081.58,520.14 1079.99,525.06 1074.81,525.06 1073.22,520.14" fill="#0000ff" stroke="#000" stroke-width="0.80"/>
<line x1="1056.20" y1="543.50" x2="1077.40" y2="543.50" stroke="#008000" stroke-width="1.20"/>
<polygon points="1056.20,539.02 1057.19,542.06 1060.38,542.06 1057.80,543.94 1058.79,546.98 1056.20,545.10 1053.61,546.98 1054.60,543.94 1052.02,542.06 1055.21,542.06" fill="#008000" stroke="#000" stroke-width="0.80"/>
<polygon points="1077.40,539.02 1078.39,542.06 1081.58,542.06 1079.00,543.94 1079.99,546.98 1077.40,545.10 1074.81,546.98 1075.80,543.94 1073.22,542.06 1076.41,542.06" fill="#008000" stroke="#000" stroke-width="0.80"/>
<line x1="1056.20" y1="565.50" x2="1077.40" y2="565.50" stroke="#ff0000" stroke-width="1.20"/>
<polygon points="1056.20,560.94 1060.01,563.14 1060.01,567.54 1056.20,569.74 1052.39,567.54 1052.39,563.14" fill="#ff0000" stroke="#000" stroke-width="0.80"/>
<polygon points="1077.40,560.94 1081.21,563.14 1081.21,567.54 1077.40,569.74 1073.59,567.54 1073.59,563.14" fill="#ff0000" stroke="#000" stroke-width="0.80"/>
<line x1="1056.20" y1="587.50" x2="1077.40" y2="587.50" stroke="#00bfbf" stroke-width="1.20"/>
<path d="M1051.80 582.86L1060.60 591.66M1051.80 591.66L1060.60 582.86" stroke="#00bfbf" stroke-width="1.00" fill="none"/>
<path d="M1073.00 582.86L1081.80 591.66M1073.00 591.66L1081.80 582.86" stroke="#00bfbf" stroke-width="1.00" fill="none"/>
<line x1="1056.20" y1="609.50" x2="1077.40" y2="609.50" stroke="#bf00bf" stroke-width="1.20"/>
<polygon points="1056.20,602.95 1062.43,609.18 1056.20,615.41 1049.97,609.18" fill="#bf00bf" stroke="#000" stroke-width="0.80"/>
<polygon points="1077.40,602.95 1083.63,609.18 1077.40,615.41 1071.17,609.18" fill="#bf00bf" stroke="#000" stroke-width="0.80"/>
<line x1="1056.20" y1="631.50" x2="1077.40" y2="631.50" stroke="#bfbf00" stroke-width="1.20"/>
<polygon points="1056.20,626.70 1060.38,629.74 1058.79,634.66 1053.61,634.66 1052.02,629.74" fill="#bfbf00" stroke="#000" stroke-width="0.80"/>
<polygon points="1077.40,626.70 1081.58,629.74 1079.99,634.66 1074.81,634.66 1073.22,629.74" fill="#bfbf00" stroke="#000" stroke-width="0.80"/>
<g style="opacity:0.999"><text x="411.63" y="22.95" font-size="13.02" textLength="74.94" lengthAdjust="spacingAndGlyphs">TRec AE NW</text><text x="411.63" y="40.51" font-size="13.02" textLength="70.74" lengthAdjust="spacingAndGlyphs">TLin AE NW</text><text x="412.12" y="58.07" font-size="13.02" textLength="85.73" lengthAdjust="spacingAndGlyphs">cAE NW RS=3</text><text x="412.12" y="75.63" font-size="13.02" textLength="90.13" lengthAdjust="spacingAndGlyphs">cAE NW RS=-3</text><text x="412.13" y="93.19" font-size="13.02" textLength="77.04" lengthAdjust="spacingAndGlyphs">K-means NW</text><text x="412.17" y="110.75" font-size="13.02" textLength="100.33" lengthAdjust="spacingAndGlyphs">Standout AE NW</text><text x="1097.93" y="22.95" font-size="13.02" textLength="49.84" lengthAdjust="spacingAndGlyphs">TRec AE</text><text x="1097.92" y="40.51" font-size="13.02" textLength="45.59" lengthAdjust="spacingAndGlyphs">TLin AE</text><text x="1098.42" y="58.07" font-size="13.02" textLength="60.53" lengthAdjust="spacingAndGlyphs">cAE RS=3</text><text x="1098.42" y="75.63" font-size="13.02" textLength="64.98" lengthAdjust="spacingAndGlyphs">cAE RS=-3</text><text x="1098.42" y="93.19" font-size="13.02" textLength="52.15" lengthAdjust="spacingAndGlyphs">K-means</text><text x="1098.46" y="110.75" font-size="13.02" textLength="75.27" lengthAdjust="spacingAndGlyphs">Standout AE</text><text x="434.27" y="526.50" font-size="16.26" textLength="62.34" lengthAdjust="spacingAndGlyphs">TRec AE</text><text x="434.26" y="548.42" font-size="16.26" textLength="57.03" lengthAdjust="spacingAndGlyphs">TLin AE</text><text x="434.89" y="570.34" font-size="16.26" textLength="75.55" lengthAdjust="spacingAndGlyphs">cAE RS=1</text><text x="434.89" y="592.26" font-size="16.26" textLength="75.42" lengthAdjust="spacingAndGlyphs">cAE RS=2</text><text x="434.89" y="614.18" font-size="16.26" textLength="75.67" lengthAdjust="spacingAndGlyphs">cAE RS=3</text><text x="434.89" y="636.10" font-size="16.26" textLength="65.02" lengthAdjust="spacingAndGlyphs">K-means</text><text x="1094.37" y="526.50" font-size="16.26" textLength="62.34" lengthAdjust="spacingAndGlyphs">TRec AE</text><text x="1094.36" y="548.42" font-size="16.26" textLength="57.03" lengthAdjust="spacingAndGlyphs">TLin AE</text><text x="1094.99" y="570.34" font-size="16.26" textLength="75.55" lengthAdjust="spacingAndGlyphs">cAE RS=1</text><text x="1094.99" y="592.26" font-size="16.26" textLength="75.42" lengthAdjust="spacingAndGlyphs">cAE RS=2</text><text x="1094.99" y="614.18" font-size="16.26" textLength="75.67" lengthAdjust="spacingAndGlyphs">cAE RS=3</text><text x="1094.99" y="636.10" font-size="16.26" textLength="65.02" lengthAdjust="spacingAndGlyphs">K-means</text><text x="39.14" y="416.80" font-size="18.07" textLength="9.97" lengthAdjust="spacingAndGlyphs">0</text><text x="86.86" y="416.80" font-size="18.07" textLength="31.59" lengthAdjust="spacingAndGlyphs">500</text><text x="139.62" y="416.80" font-size="18.07" textLength="42.49" lengthAdjust="spacingAndGlyphs">1000</text><text x="198.17" y="416.80" font-size="18.07" textLength="42.49" lengthAdjust="spacingAndGlyphs">1500</text><text x="256.87" y="416.80" font-size="18.07" textLength="42.66" lengthAdjust="spacingAndGlyphs">2000</text><text x="315.42" y="416.80" font-size="18.07" textLength="42.66" lengthAdjust="spacingAndGlyphs">2500</text><text x="374.27" y="416.80" font-size="18.07" textLength="42.32" lengthAdjust="spacingAndGlyphs">3000</text><text x="432.82" y="416.80" font-size="18.07" textLength="42.32" lengthAdjust="spacingAndGlyphs">3500</text><text x="491.38" y="416.80" font-size="18.07" textLength="42.57" lengthAdjust="spacingAndGlyphs">4000</text><text x="20.91" y="373.60" font-size="18.07" textLength="20.63" lengthAdjust="spacingAndGlyphs">30</text><text x="20.66" y="307.60" font-size="18.07" textLength="20.89" lengthAdjust="spacingAndGlyphs">40</text><text x="20.84" y="240.60" font-size="18.07" textLength="20.70" lengthAdjust="spacingAndGlyphs">50</text><text x="20.51" y="174.60" font-size="18.07" textLength="21.05" lengthAdjust="spacingAndGlyphs">60</text><text x="20.70" y="108.60" font-size="18.07" textLength="20.84" lengthAdjust="spacingAndGlyphs">70</text><text x="20.58" y="42.60" font-size="18.07" textLength="20.97" lengthAdjust="spacingAndGlyphs">80</text><text x="201.83" y="434.10" font-size="18.07" textLength="163.38" lengthAdjust="spacingAndGlyphs">number of features</text><text x="-89.35" y="0" font-size="18.07" textLength="177.19" lengthAdjust="spacingAndGlyphs" transform="translate(13.40 200.25) rotate(-90)">Percentage accuracy</text><text x="699.24" y="416.80" font-size="18.07" textLength="9.97" lengthAdjust="spacingAndGlyphs">0</text><text x="746.96" y="416.80" font-size="18.07" textLength="31.59" lengthAdjust="spacingAndGlyphs">500</text><text x="799.72" y="416.80" font-size="18.07" textLength="42.49" lengthAdjust="spacingAndGlyphs">1000</text><text x="858.27" y="416.80" font-size="18.07" textLength="42.49" lengthAdjust="spacingAndGlyphs">1500</text><text x="916.97" y="416.80" font-size="18.07" textLength="42.66" lengthAdjust="spacingAndGlyphs">2000</text><text x="975.52" y="416.80" font-size="18.07" textLength="42.66" lengthAdjust="spacingAndGlyphs">2500</text><text x="1034.37" y="416.80" font-size="18.07" textLength="42.32" lengthAdjust="spacingAndGlyphs">3000</text><text x="1092.92" y="416.80" font-size="18.07" textLength="42.32" lengthAdjust="spacingAndGlyphs">3500</text><text x="1151.48" y="416.80" font-size="18.07" textLength="42.57" lengthAdjust="spacingAndGlyphs">4000</text><text x="681.41" y="373.60" font-size="18.07" textLength="20.63" lengthAdjust="spacingAndGlyphs">30</text><text x="681.16" y="307.60" font-size="18.07" textLength="20.89" lengthAdjust="spacingAndGlyphs">40</text><text x="681.34" y="240.60" font-size="18.07" textLength="20.70" lengthAdjust="spacingAndGlyphs">50</text><text x="681.01" y="174.60" font-size="18.07" textLength="21.05" lengthAdjust="spacingAndGlyphs">60</text><text x="681.20" y="108.60" font-size="18.07" textLength="20.84" lengthAdjust="spacingAndGlyphs">70</text><text x="681.08" y="42.60" font-size="18.07" textLength="20.97" lengthAdjust="spacingAndGlyphs">80</text><text x="862.33" y="434.10" font-size="18.07" textLength="163.38" lengthAdjust="spacingAndGlyphs">number of features</text><text x="-89.35" y="0" font-size="18.07" textLength="177.19" lengthAdjust="spacingAndGlyphs" transform="translate(673.90 200.25) rotate(-90)">Percentage accuracy</text><text x="40.11" y="829.70" font-size="17.01" textLength="8.80" lengthAdjust="spacingAndGlyphs">5</text><text x="94.25" y="829.70" font-size="17.01" textLength="19.61" lengthAdjust="spacingAndGlyphs">10</text><text x="154.34" y="829.70" font-size="17.01" textLength="19.26" lengthAdjust="spacingAndGlyphs">15</text><text x="214.19" y="829.70" font-size="17.01" textLength="19.73" lengthAdjust="spacingAndGlyphs">20</text><text x="274.28" y="829.70" font-size="17.01" textLength="19.39" lengthAdjust="spacingAndGlyphs">25</text><text x="334.17" y="829.70" font-size="17.01" textLength="19.52" lengthAdjust="spacingAndGlyphs">30</text><text x="394.25" y="829.70" font-size="17.01" textLength="19.18" lengthAdjust="spacingAndGlyphs">35</text><text x="454.04" y="829.70" font-size="17.01" textLength="19.64" lengthAdjust="spacingAndGlyphs">40</text><text x="514.12" y="829.70" font-size="17.01" textLength="19.31" lengthAdjust="spacingAndGlyphs">45</text><text x="21.47" y="819.25" font-size="17.01" textLength="19.52" lengthAdjust="spacingAndGlyphs">30</text><text x="21.85" y="767.25" font-size="17.01" textLength="19.18" lengthAdjust="spacingAndGlyphs">35</text><text x="21.35" y="715.25" font-size="17.01" textLength="19.64" lengthAdjust="spacingAndGlyphs">40</text><text x="21.73" y="663.25" font-size="17.01" textLength="19.31" lengthAdjust="spacingAndGlyphs">45</text><text x="21.53" y="611.25" font-size="17.01" textLength="19.45" lengthAdjust="spacingAndGlyphs">50</text><text x="21.92" y="559.25" font-size="17.01" textLength="19.11" lengthAdjust="spacingAndGlyphs">55</text><text x="21.20" y="507.25" font-size="17.01" textLength="19.79" lengthAdjust="spacingAndGlyphs">60</text><text x="246.82" y="848.00" font-size="17.01" textLength="74.74" lengthAdjust="spacingAndGlyphs">Patchsize</text><text x="-84.06" y="0" font-size="17.01" textLength="166.77" lengthAdjust="spacingAndGlyphs" transform="translate(13.00 656.35) rotate(-90)">Percentage accuracy</text><text x="700.01" y="829.70" font-size="17.01" textLength="8.80" lengthAdjust="spacingAndGlyphs">5</text><text x="754.15" y="829.70" font-size="17.01" textLength="19.61" lengthAdjust="spacingAndGlyphs">10</text><text x="814.24" y="829.70" font-size="17.01" textLength="19.26" lengthAdjust="spacingAndGlyphs">15</text><text x="874.09" y="829.70" font-size="17.01" textLength="19.73" lengthAdjust="spacingAndGlyphs">20</text><text x="934.18" y="829.70" font-size="17.01" textLength="19.39" lengthAdjust="spacingAndGlyphs">25</text><text x="994.07" y="829.70" font-size="17.01" textLength="19.52" lengthAdjust="spacingAndGlyphs">30</text><text x="1054.15" y="829.70" font-size="17.01" textLength="19.18" lengthAdjust="spacingAndGlyphs">35</text><text x="1113.94" y="829.70" font-size="17.01" textLength="19.64" lengthAdjust="spacingAndGlyphs">40</text><text x="1174.02" y="829.70" font-size="17.01" textLength="19.31" lengthAdjust="spacingAndGlyphs">45</text><text x="681.97" y="819.25" font-size="17.01" textLength="19.52" lengthAdjust="spacingAndGlyphs">30</text><text x="682.35" y="767.25" font-size="17.01" textLength="19.18" lengthAdjust="spacingAndGlyphs">35</text><text x="681.85" y="715.25" font-size="17.01" textLength="19.64" lengthAdjust="spacingAndGlyphs">40</text><text x="682.23" y="663.25" font-size="17.01" textLength="19.31" lengthAdjust="spacingAndGlyphs">45</text><text x="682.03" y="611.25" font-size="17.01" textLength="19.45" lengthAdjust="spacingAndGlyphs">50</text><text x="682.42" y="559.25" font-size="17.01" textLength="19.11" lengthAdjust="spacingAndGlyphs">55</text><text x="681.70" y="507.25" font-size="17.01" textLength="19.79" lengthAdjust="spacingAndGlyphs">60</text><text x="906.92" y="848.00" font-size="17.01" textLength="74.74" lengthAdjust="spacingAndGlyphs">Patchsize</text><text x="-84.06" y="0" font-size="17.01" textLength="166.77" lengthAdjust="spacingAndGlyphs" transform="translate(673.10 656.35) rotate(-90)">Percentage accuracy</text></g>
</svg></body></html>
